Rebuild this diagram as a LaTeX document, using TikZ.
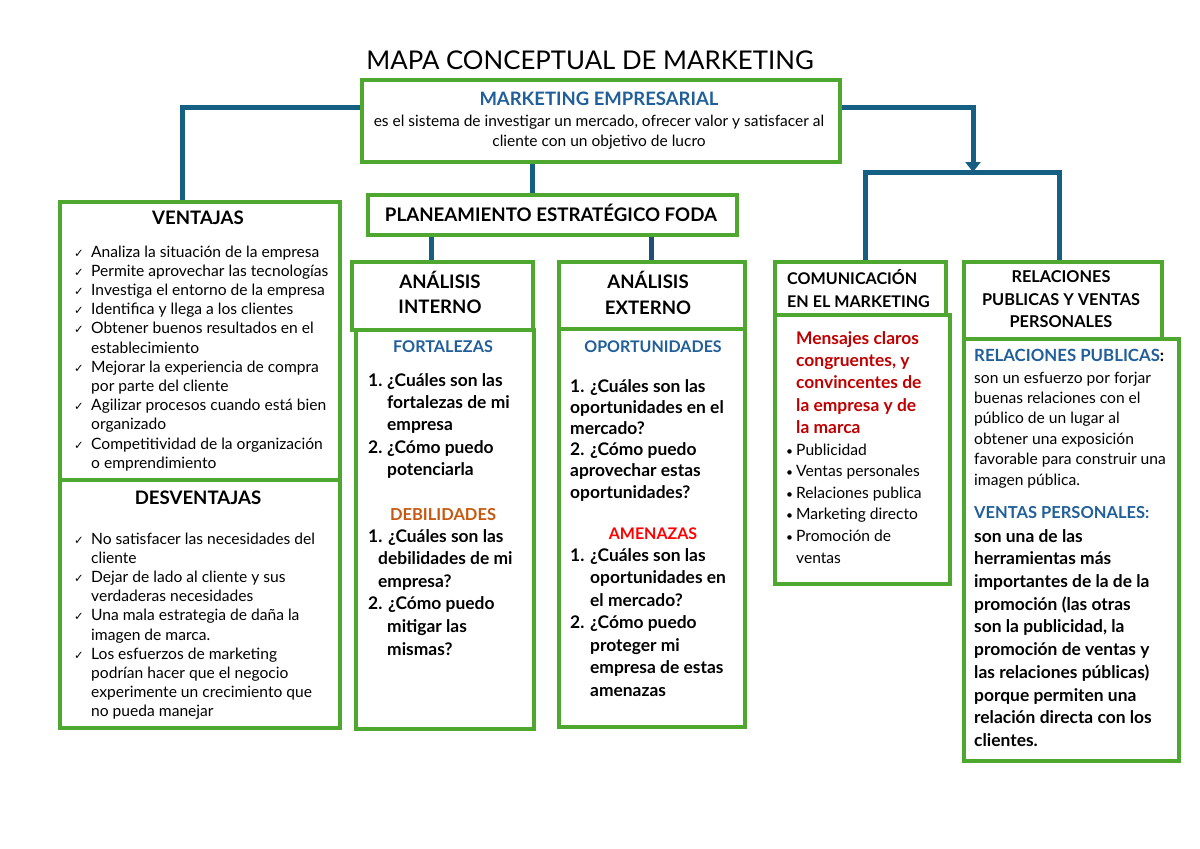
\documentclass[tikz,border=0pt]{standalone}
\usepackage{fontspec}
\setmainfont{Lato}
\newfontfamily\symf{DejaVu Sans}
\usetikzlibrary{arrows.meta}
\definecolor{gr}{HTML}{4EA72E}
\definecolor{lk}{HTML}{156082}
\definecolor{lkd}{HTML}{1F4E79}
\definecolor{tb}{HTML}{215F9A}
\definecolor{orng}{HTML}{C65911}
\definecolor{rd}{HTML}{FF0000}
\definecolor{drd}{HTML}{C00000}
\newcommand\ck{\makebox[17pt][l]{\symf\fontsize{11.5}{11}\selectfont ✓}}
\newcommand\bul{\makebox[10pt][l]{\fontsize{12}{12}\selectfont •}}
\newcommand\nb[2]{\makebox[#1][l]{#2}}
\begin{document}
\begin{tikzpicture}[x=1pt,y=-1pt,
  box/.style={draw=gr, line width=4pt, fill=white, inner sep=0pt, anchor=north west},
  link/.style={draw=lk, line width=5pt},
  txt/.style={inner sep=0pt, align=left, anchor=north west},
  ctr/.style={inner sep=0pt, align=center, anchor=center},
  fsz/.style 2 args={font=\fontsize{#1}{#2}\selectfont},
  bsz/.style 2 args={font=\bfseries\fontsize{#1}{#2}\selectfont}]
\useasboundingbox[fill=white] (0,0) rectangle (1200,849);

% boxes
\node[box, minimum width=478pt, minimum height=82pt] (main) at (360,78) {};
\node[box, minimum width=369pt, minimum height=40pt] (plan) at (366,193) {};
\node[box, minimum width=280pt, minimum height=278pt] (vent) at (58,200) {};
\node[box, minimum width=280pt, minimum height=248pt] (desv) at (58,478) {};
\node[box, minimum width=178pt, minimum height=399pt] (aib) at (354,328) {};
\node[box, minimum width=181pt, minimum height=68pt] (aih) at (350,260) {};
\node[box, minimum width=186pt, minimum height=398pt] (aeb) at (557,327) {};
\node[box, minimum width=186pt, minimum height=67pt] (aeh) at (557,260) {};
\node[box, minimum width=175pt, minimum height=269pt] (comb) at (773,313) {};
\node[box, minimum width=171pt, minimum height=53pt] (comh) at (773,260) {};
\node[box, minimum width=215pt, minimum height=422pt] (relb) at (962,337) {};
\node[box, minimum width=198pt, minimum height=77pt] (relh) at (962,260) {};

% connectors
\draw[link] ([yshift=-29pt]main.north west) -| ([xshift=-18pt]vent.north);
\coordinate (jn) at (973,172);
\draw[link] ([xshift=4.5pt]comh.north) |- (jn) -| ([xshift=-4pt]relh.north);
\draw[link, -{Triangle[width=15pt,length=10pt]}] ([yshift=-29pt]main.north east) -| (jn);
\draw[link] ([xshift=-69pt]main.south) -- ([xshift=-20.5pt]plan.north);
\draw[link] ([xshift=-121.5pt]plan.south) -- ([xshift=-11.5pt]aih.north);
\draw[link, draw=lkd] ([xshift=98.5pt]plan.south) -- ([xshift=-1pt]aeh.north);

% title
\node[ctr, fsz={25.8}{30}] (title) at (590,60) {MAPA CONCEPTUAL DE MARKETING};

% main text
\node[ctr, text=tb, bsz={18.5}{20}] (mainh) at (599,99) {MARKETING EMPRESARIAL};
\node[ctr, fsz={15.5}{20}] (maint) at (599,132) {es el sistema de investigar un mercado, ofrecer valor y satisfacer al\\cliente con un objetivo de lucro};

\node[ctr, bsz={18.7}{20}] (planT) at (551,213) {PLANEAMIENTO ESTRATÉGICO FODA};

% ventajas
\node[ctr, bsz={18.6}{20}] (ventT) at (198,218) {VENTAJAS};
\node[txt, fsz={15.6}{19.2}] (ventL) at (74,245.5) {%
\ck Analiza la situación de la empresa\\
\ck Permite aprovechar las tecnologías\\
\ck Investiga el entorno de la empresa\\
\ck Identifica y llega a los clientes\\
\ck Obtener buenos resultados en el\\
\hspace*{17pt}establecimiento\\
\ck Mejorar la experiencia de compra\\
\hspace*{17pt}por parte del cliente\\
\ck Agilizar procesos cuando está bien\\
\hspace*{17pt}organizado\\
\ck Competitividad de la organización\\
\hspace*{17pt}o emprendimiento};

\node[ctr, bsz={18.6}{20}] (desvT) at (198,498) {DESVENTAJAS};
\node[txt, fsz={15.6}{19.2}] (desvL) at (74,532.5) {%
\ck No satisfacer las necesidades del\\
\hspace*{17pt}cliente\\
\ck Dejar de lado al cliente y sus\\
\hspace*{17pt}verdaderas necesidades\\
\ck Una mala estrategia de daña la\\
\hspace*{17pt}imagen de marca.\\
\ck Los esfuerzos de marketing\\
\hspace*{17pt}podrían hacer que el negocio\\
\hspace*{17pt}experimente un crecimiento que\\
\hspace*{17pt}no pueda manejar};

% analisis interno
\node[ctr, bsz={18.6}{25}] (aiT) at (440,292.5) {ANÁLISIS\\INTERNO};
\node[ctr, text=tb, bsz={16.2}{18}] (fort) at (443,347) {FORTALEZAS};
\node[txt, bsz={17.4}{22.4}] (fortL) at (368,373) {%
\nb{19pt}{1.}¿Cuáles son las\\
\hspace*{19pt}fortalezas de mi\\
\hspace*{19pt}empresa\\
\nb{19pt}{2.}¿Cómo puedo\\
\hspace*{19pt}potenciarla};
\node[ctr, text=orng, bsz={16.5}{18}] (debi) at (443,515) {DEBILIDADES};
\node[txt, bsz={17.4}{22.6}] (debiL) at (368,529) {%
1. ¿Cuáles son las\\
\hspace*{10pt}debilidades de mi\\
\hspace*{10pt}empresa?\\
2. ¿Cómo puedo\\
\hspace*{19pt}mitigar las\\
\hspace*{19pt}mismas?};

% analisis externo
\node[ctr, bsz={18.6}{26}] (aeT) at (648,293) {ANÁLISIS\\EXTERNO};
\node[ctr, text=tb, bsz={16}{18}] (opor) at (653,347) {OPORTUNIDADES};
\node[txt, bsz={17.4}{21.2}] (oporL) at (570,379) {%
1. ¿Cuáles son las\\
oportunidades en el\\
mercado?\\
2. ¿Cómo puedo\\
aprovechar estas\\
oportunidades?};
\node[ctr, text=rd, bsz={16}{18}] (amen) at (653,534) {AMENAZAS};
\node[txt, bsz={17.4}{22.5}] (amenL) at (570,548) {%
\nb{20pt}{1.}¿Cuáles son las\\
\hspace*{20pt}oportunidades en\\
\hspace*{20pt}el mercado?\\
\nb{20pt}{2.}¿Cómo puedo\\
\hspace*{20pt}proteger mi\\
\hspace*{20pt}empresa de estas\\
\hspace*{20pt}amenazas};

% comunicacion
\node[txt, bsz={16.1}{23}] (comT) at (787,269.5) {COMUNICACIÓN\\EN EL MARKETING};
\node[txt, text=drd, bsz={17.4}{22.3}] (comR) at (796,331) {%
Mensajes claros\\
congruentes, y\\
convincentes de\\
la empresa y de\\
la marca};
\node[txt, fsz={15.6}{21.6}] (comL) at (786,443.5) {%
\bul Publicidad\\
\bul Ventas personales\\
\bul Relaciones publica\\
\bul Marketing directo\\
\bul Promoción de\\
\hspace*{10pt}ventas};

% relaciones
\node[ctr, bsz={16.3}{22.5}] (relT) at (1061,299.5) {RELACIONES\\PUBLICAS Y VENTAS\\PERSONALES};
\node[txt, bsz={16.8}{18}] (rpT) at (974,349.5) {\textcolor{tb}{RELACIONES PUBLICAS}:};
\node[txt, fsz={15.6}{20.4}] (rpL) at (974,371.5) {%
son un esfuerzo por forjar\\
buenas relaciones con el\\
público de un lugar al\\
obtener una exposición\\
favorable para construir una\\
imagen pública.};
\node[txt, text=tb, bsz={16.5}{18}] (vpT) at (974,506.5) {VENTAS PERSONALES:};
\node[txt, bsz={17.4}{22.7}] (vpL) at (974,529) {%
son una de las\\
herramientas más\\
importantes de la de la\\
promoción (las otras\\
son la publicidad, la\\
promoción de ventas y\\
las relaciones públicas)\\
porque permiten una\\
relación directa con los\\
clientes.};
\end{tikzpicture}
\end{document}
